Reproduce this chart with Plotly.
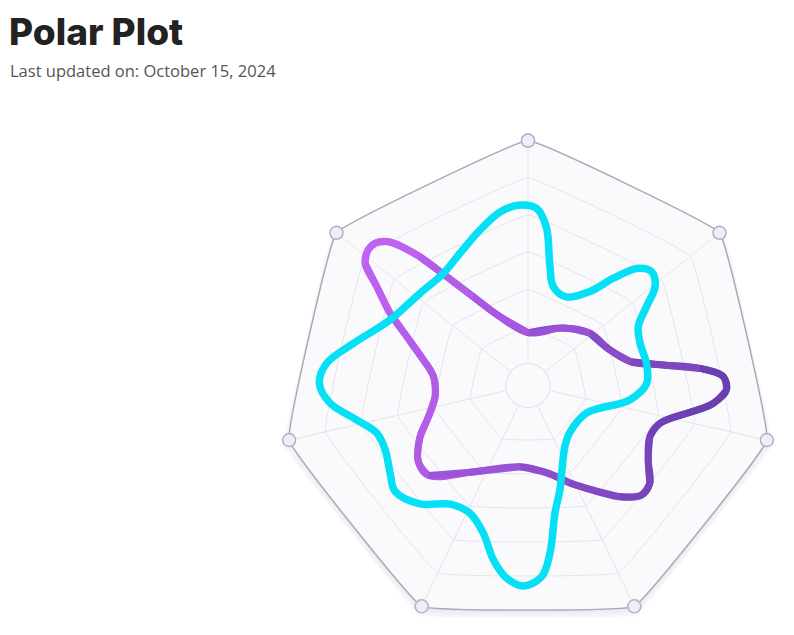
#Importacion de la libreria
import numpy as np
from plotly import graph_objects as go

#Datos (angulo en grados, radio)
categorias = ["A", "B", "C", "D", "E", "F", "G"]
borde = [6, 6, 6, 6, 6, 6, 6]
niveles = [1, 2, 3, 4, 5]

theta_cian = [1, 10.7, 20.7, 28.1, 33.7, 37.9, 42.7, 46.8, 51.5, 56.6, 66.5, 75.6,
              79.7, 83.4, 87.2, 92.5, 99.1, 107.1, 117.2, 127.0, 139.5, 154.6, 166.4,
              173.7, 179.4, 185.1, 191.3, 197.5, 204.2, 212.4, 218.5, 227.5, 236.8,
              245.6, 253.2, 258.8, 263.7, 268.7, 274.1, 277.5, 281.9, 287, 301,
              311.5, 335, 352]
r_cian = [2.6, 2.65, 2.63, 2.77, 3.24, 3.74, 3.93, 3.74, 3.10, 2.44, 2.01, 2.15,
          2.70, 3.70, 4.18, 4.27, 4.14, 3.79, 3.41, 3.19, 3.23, 3.52, 4.24,
          4.86, 5.02, 4.75, 4.11, 3.67, 3.62, 3.80, 3.98, 3.72, 3.22,
          3.18, 3.56, 4.19, 4.62, 4.80, 4.56, 3.95, 2.92, 2.34, 1.33,
          1.10, 1.15, 2.17]

theta_morado = [2.6, 5.7, 8.7, 13, 23.5, 40.3, 58.7, 89.7, 113.4, 121.6, 126.7, 130,
                133.9, 136.8, 139.7, 143.1, 146.8, 152.3, 158, 166.3, 174.6, 186.8,
                197.3, 205.3, 214.8, 222, 237.5, 264.4, 282.3, 293.3, 299.7, 309.6,
                316.1, 321.3, 328.3, 337.3, 344.1, 350.1, 354.5, 358.7]
r_morado = [4.67, 4.06, 3.09, 2.25, 1.81, 1.59, 1.22, 0.83, 1.48, 2.21, 3.06, 3.93,
            4.77, 5.02, 5.05, 4.89, 4.27, 3.60, 2.92, 2.30, 1.96, 1.92,
            2.21, 2.62, 3.00, 3.02, 2.16, 1.60, 1.81, 2.26, 2.59, 3.29,
            3.65, 3.61, 3.21, 2.96, 3.10, 3.74, 4.41, 4.75]

hueco = 0.09
suave = 0.18
#Dominios (la pagina tiene 8px de margen en el body)
dominio_x = [0.3463, 0.9635]
dominio_y = [0.0195, 0.7912]
grande_x = [0.33092, 0.97891]
grande_y = [0.00024, 0.81047]
sombra_x = [0.33709, 0.97273]
sombra_y = [0.00165, 0.79646]
centro_x = [0.6272, 0.6826]
centro_y = [0.3707, 0.4400]
color_rejilla = '#e4e4eb'
color_fondo = '#fafafd'

#Mezcla de colores para el degradado morado
def mezclar(c1, c2, t):
    t = min(max(t, 0), 1)
    a = [int(c1[i:i + 2], 16) for i in (1, 3, 5)]
    b = [int(c2[i:i + 2], 16) for i in (1, 3, 5)]
    return "rgb(%d,%d,%d)" % tuple(a[k] + (b[k] - a[k]) * t for k in range(3))

def eje_oculto(categorico):
    ang = dict(showgrid=False, showticklabels=False, ticks='', showline=False)
    if categorico:
        ang.update(rotation=90, direction='clockwise')
    return ang

fig = go.Figure()
cerrado = categorias + categorias[:1]

#Sombra (desplazada hacia abajo)
for r_s in [6.16, 6.11, 6.06, 6.01, 5.96]:
    fig.add_trace(go.Scatterpolar(
        r = [r_s] * 8, theta = cerrado, mode = 'lines', fill = 'toself',
        fillcolor = 'rgba(70,70,110,0.022)',
        line = dict(width=0, shape='spline', smoothing=suave),
        showlegend = False, hoverinfo = 'skip', subplot = 'polar'
    ))

#Fondo del heptagono redondeado
fig.add_trace(go.Scatterpolar(
    r = borde + borde[:1], theta = cerrado, mode = 'lines', fill = 'toself',
    fillcolor = color_fondo, line = dict(width=0, shape='spline', smoothing=suave),
    showlegend = False, hoverinfo = 'skip', subplot = 'polar2'
))

#Anillos de la rejilla
for nivel in niveles:
    fig.add_trace(go.Scatterpolar(
        r = [nivel] * 8, theta = cerrado, mode = 'lines',
        line = dict(color=color_rejilla, width=1, shape='spline', smoothing=suave),
        showlegend = False, hoverinfo = 'skip', subplot = 'polar3'
    ))

#Curva morada en tramos para imitar el degradado
tm = np.array(theta_morado)
rm = np.array(r_morado)
n = len(tm)
px = (hueco + (1 - hueco) * rm / 6) * np.cos(np.radians(tm))
paso = 2
for i in range(0, n, paso):
    idx = [j % n for j in range(i - 1, i + paso + 2)]
    medio = px[[j % n for j in range(i, i + paso + 1)]].mean()
    color = mezclar('#c866f7', '#6a3fb0', (medio + 0.75) / 1.5)
    fig.add_trace(go.Scatterpolar(
        r = rm[idx], theta = tm[idx], mode = 'lines',
        line = dict(color=color, width=7, shape='spline', smoothing=1),
        showlegend = False, hoverinfo = 'skip', subplot = 'polar4'
    ))

#Curva cian (cerrada)
fig.add_trace(go.Scatterpolar(
    r = r_cian + r_cian[:1], theta = theta_cian + theta_cian[:1], mode = 'lines',
    line = dict(color='#05e0f4', width=7.5, shape='spline', smoothing=1),
    showlegend = False, hoverinfo = 'skip', subplot = 'polar4'
))

#Circulo interior
fig.add_trace(go.Scatterpolar(
    r = [0], theta = [0], mode = 'markers', marker = dict(opacity=0),
    showlegend = False, hoverinfo = 'skip', subplot = 'polar5'
))

#Borde exterior y vertices
fig.add_trace(go.Scatterpolar(
    r = borde + borde[:1], theta = cerrado, mode = 'lines+markers',
    line = dict(color='#a6abba', width=1.5, shape='spline', smoothing=suave),
    marker = dict(size=13, color='#eceef9', line=dict(color='#aeb3c4', width=1.5)),
    cliponaxis = False, showlegend = False, hoverinfo = 'skip', subplot = 'polar6'
))

transparente = 'rgba(0,0,0,0)'
fig.update_layout(
    width = 794,
    height = 635,
    margin = dict(l=0, r=0, t=0, b=0),
    paper_bgcolor = 'white',
    plot_bgcolor = 'white',
    polar = dict(
        domain = dict(x=sombra_x, y=sombra_y), bgcolor = transparente,
        gridshape = 'linear',
        radialaxis = dict(range=[0, 6.18], visible=False),
        angularaxis = eje_oculto(True)
    ),
    polar2 = dict(
        domain = dict(x=grande_x, y=grande_y), bgcolor = transparente,
        gridshape = 'linear',
        radialaxis = dict(range=[0, 6.3], visible=False),
        angularaxis = eje_oculto(True)
    ),
    polar3 = dict(
        domain = dict(x=dominio_x, y=dominio_y), bgcolor = transparente,
        hole = hueco, gridshape = 'linear',
        radialaxis = dict(range=[0, 6], showgrid=False, showticklabels=False,
                          ticks='', showline=False),
        angularaxis = dict(rotation=90, direction='clockwise', showticklabels=False,
                           ticks='', showline=False,
                           gridcolor=color_rejilla, gridwidth=1)
    ),
    polar4 = dict(
        domain = dict(x=dominio_x, y=dominio_y), bgcolor = transparente,
        hole = hueco,
        radialaxis = dict(range=[0, 6], visible=False),
        angularaxis = dict(visible=False, showgrid=False, rotation=0,
                           direction='counterclockwise')
    ),
    polar5 = dict(
        domain = dict(x=centro_x, y=centro_y), bgcolor = color_fondo,
        radialaxis = dict(visible=False),
        angularaxis = dict(showgrid=False, showticklabels=False, ticks='',
                           showline=True, linecolor=color_rejilla, linewidth=1.3)
    ),
    polar6 = dict(
        domain = dict(x=grande_x, y=grande_y), bgcolor = transparente,
        gridshape = 'linear',
        radialaxis = dict(range=[0, 6.3], visible=False),
        angularaxis = eje_oculto(True)
    ),
    annotations = [
        dict(text='Polar Plot', x=0.0, y=1.0, xref='paper', yref='paper',
             xanchor='left', yanchor='top', showarrow=False, borderpad=0,
             font=dict(family='Inter', size=37, color='#222222', weight=800)),
        dict(text='Last updated on: October 15, 2024', x=0.0, y=0.902,
             xref='paper', yref='paper', xanchor='left', yanchor='middle',
             showarrow=False, font=dict(family='Open Sans', size=16.5, color='#555555'))
    ]
)

fig.write_html("out.html")
